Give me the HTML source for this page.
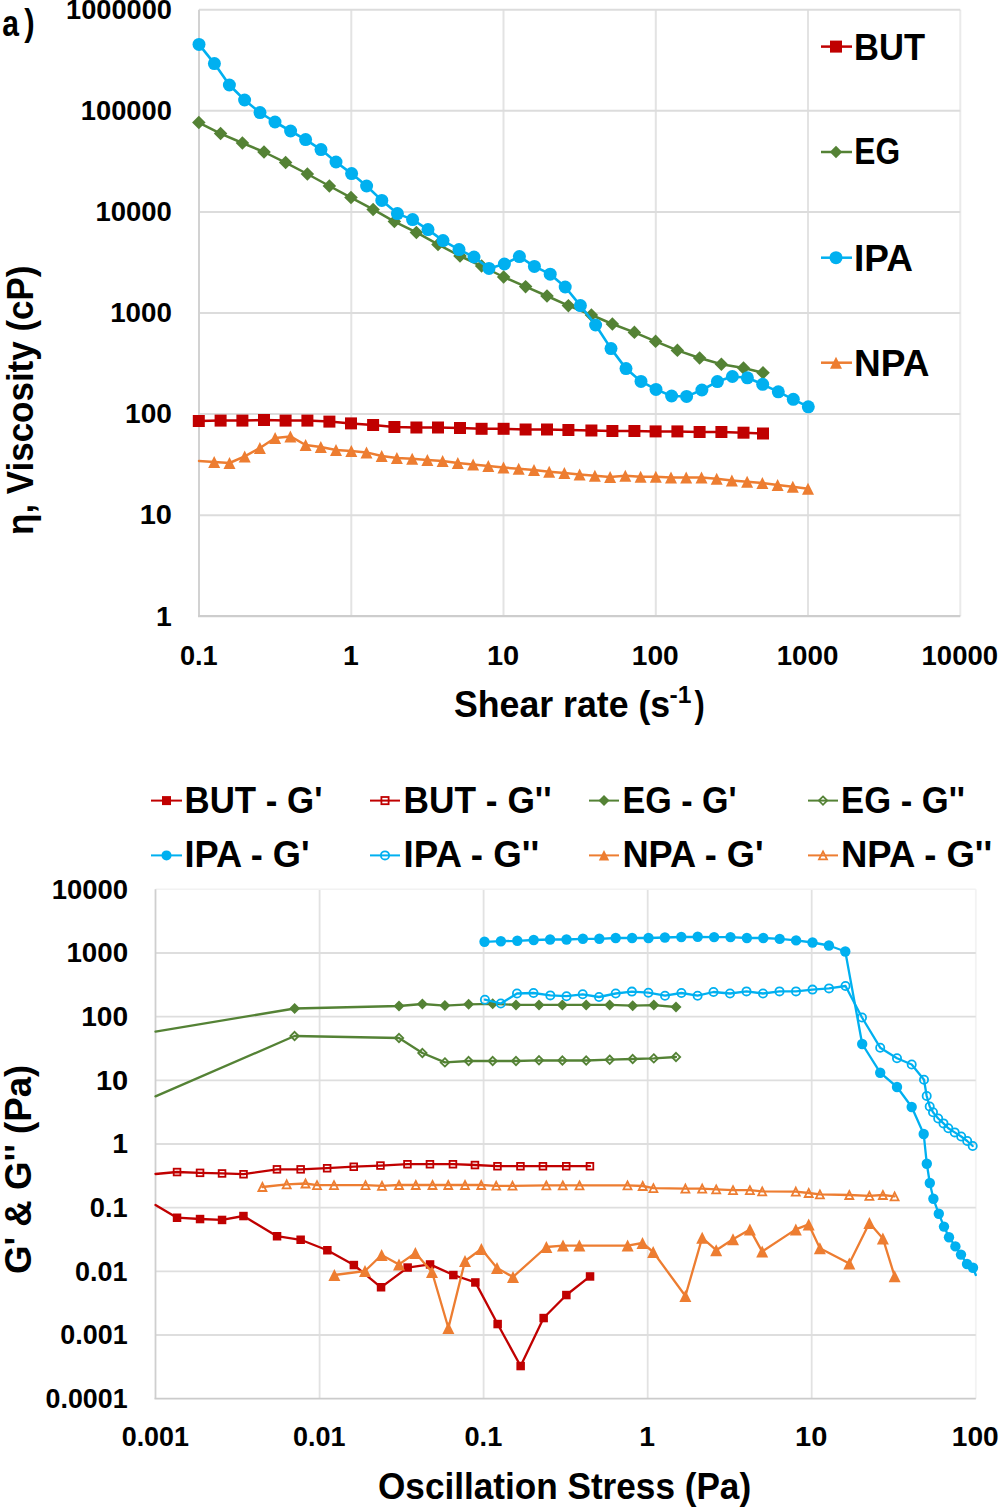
<!DOCTYPE html>
<html><head><meta charset="utf-8"><style>
html,body{margin:0;padding:0;background:#fff;}
svg{display:block;}
#wrap{width:1000px;height:1509px;}
text{font-family:"Liberation Sans",sans-serif;font-weight:bold;}
</style></head><body><div id="wrap">
<svg width="1000" height="1509" viewBox="0 0 1000 1509">
<rect width="1000" height="1509" fill="#fff"/>
<line x1="351.3" y1="9.8" x2="351.3" y2="616.2" stroke="#e3e3e3" stroke-width="2"/>
<line x1="503.5" y1="9.8" x2="503.5" y2="616.2" stroke="#e3e3e3" stroke-width="2"/>
<line x1="655.8" y1="9.8" x2="655.8" y2="616.2" stroke="#e3e3e3" stroke-width="2"/>
<line x1="808" y1="9.8" x2="808" y2="616.2" stroke="#e3e3e3" stroke-width="2"/>
<line x1="960.3" y1="9.8" x2="960.3" y2="616.2" stroke="#eaeaea" stroke-width="2"/>
<line x1="199" y1="9.8" x2="960.3" y2="9.8" stroke="#dcdcdc" stroke-width="2"/>
<line x1="199" y1="110.8" x2="960.3" y2="110.8" stroke="#dcdcdc" stroke-width="2"/>
<line x1="199" y1="211.9" x2="960.3" y2="211.9" stroke="#dcdcdc" stroke-width="2"/>
<line x1="199" y1="313" x2="960.3" y2="313" stroke="#dcdcdc" stroke-width="2"/>
<line x1="199" y1="414.1" x2="960.3" y2="414.1" stroke="#dcdcdc" stroke-width="2"/>
<line x1="199" y1="515.2" x2="960.3" y2="515.2" stroke="#dcdcdc" stroke-width="2"/>
<line x1="199" y1="9.8" x2="199" y2="616.2" stroke="#d2d2d2" stroke-width="2"/>
<line x1="198" y1="616.2" x2="960.3" y2="616.2" stroke="#cdcdcd" stroke-width="2.2"/>
<polyline points="198.8,421 220.6,420.6 242.4,420.6 264,420 285.6,420.6 307.4,420.6 329.4,421.6 351,423.4 373.1,425 394.4,427 416.4,427.5 438,427.5 460,428 481.6,428.8 503.6,428.8 525.6,429.5 547,429.5 568.4,430 591.4,430.5 612.4,431 634.4,431 655.6,431.4 677.4,431.4 699.6,432 721.4,432 743.5,432.7 763,433.5" fill="none" stroke="#c00000" stroke-width="2.5" stroke-linejoin="round" stroke-linecap="round"/>
<rect x="192.8" y="415" width="12" height="12" fill="#c00000"/>
<rect x="214.6" y="414.6" width="12" height="12" fill="#c00000"/>
<rect x="236.4" y="414.6" width="12" height="12" fill="#c00000"/>
<rect x="258" y="414" width="12" height="12" fill="#c00000"/>
<rect x="279.6" y="414.6" width="12" height="12" fill="#c00000"/>
<rect x="301.4" y="414.6" width="12" height="12" fill="#c00000"/>
<rect x="323.4" y="415.6" width="12" height="12" fill="#c00000"/>
<rect x="345" y="417.4" width="12" height="12" fill="#c00000"/>
<rect x="367.1" y="419" width="12" height="12" fill="#c00000"/>
<rect x="388.4" y="421" width="12" height="12" fill="#c00000"/>
<rect x="410.4" y="421.5" width="12" height="12" fill="#c00000"/>
<rect x="432" y="421.5" width="12" height="12" fill="#c00000"/>
<rect x="454" y="422" width="12" height="12" fill="#c00000"/>
<rect x="475.6" y="422.8" width="12" height="12" fill="#c00000"/>
<rect x="497.6" y="422.8" width="12" height="12" fill="#c00000"/>
<rect x="519.6" y="423.5" width="12" height="12" fill="#c00000"/>
<rect x="541" y="423.5" width="12" height="12" fill="#c00000"/>
<rect x="562.4" y="424" width="12" height="12" fill="#c00000"/>
<rect x="585.4" y="424.5" width="12" height="12" fill="#c00000"/>
<rect x="606.4" y="425" width="12" height="12" fill="#c00000"/>
<rect x="628.4" y="425" width="12" height="12" fill="#c00000"/>
<rect x="649.6" y="425.4" width="12" height="12" fill="#c00000"/>
<rect x="671.4" y="425.4" width="12" height="12" fill="#c00000"/>
<rect x="693.6" y="426" width="12" height="12" fill="#c00000"/>
<rect x="715.4" y="426" width="12" height="12" fill="#c00000"/>
<rect x="737.5" y="426.7" width="12" height="12" fill="#c00000"/>
<rect x="757" y="427.5" width="12" height="12" fill="#c00000"/>
<polyline points="198.8,122.6 220.6,133.6 242.4,143 264,152 285.6,162.6 307.4,174 329.4,186 351,197.6 373.1,209.4 394.4,221.6 416.4,232.4 438,244.4 460,256 481.6,266 503.6,277 525.6,286.6 547,296 568.4,305.6 591.4,315 612.4,324 634.4,332.4 655.6,341.4 677.4,350.4 699.6,358 721.4,364.3 743.5,368 763,372.7" fill="none" stroke="#548235" stroke-width="2.5" stroke-linejoin="round" stroke-linecap="round"/>
<path d="M198.8 115.8L205.6 122.6L198.8 129.3L192.1 122.6Z" fill="#548235"/>
<path d="M220.6 126.8L227.3 133.6L220.6 140.3L213.8 133.6Z" fill="#548235"/>
<path d="M242.4 136.2L249.2 143L242.4 149.8L235.7 143Z" fill="#548235"/>
<path d="M264 145.2L270.8 152L264 158.8L257.2 152Z" fill="#548235"/>
<path d="M285.6 155.8L292.4 162.6L285.6 169.3L278.9 162.6Z" fill="#548235"/>
<path d="M307.4 167.2L314.1 174L307.4 180.8L300.6 174Z" fill="#548235"/>
<path d="M329.4 179.2L336.1 186L329.4 192.8L322.6 186Z" fill="#548235"/>
<path d="M351 190.8L357.8 197.6L351 204.3L344.2 197.6Z" fill="#548235"/>
<path d="M373.1 202.7L379.9 209.4L373.1 216.2L366.4 209.4Z" fill="#548235"/>
<path d="M394.4 214.8L401.1 221.6L394.4 228.3L387.6 221.6Z" fill="#548235"/>
<path d="M416.4 225.7L423.1 232.4L416.4 239.2L409.6 232.4Z" fill="#548235"/>
<path d="M438 237.7L444.8 244.4L438 251.2L431.2 244.4Z" fill="#548235"/>
<path d="M460 249.2L466.8 256L460 262.8L453.2 256Z" fill="#548235"/>
<path d="M481.6 259.2L488.4 266L481.6 272.8L474.9 266Z" fill="#548235"/>
<path d="M503.6 270.2L510.4 277L503.6 283.8L496.9 277Z" fill="#548235"/>
<path d="M525.6 279.9L532.4 286.6L525.6 293.4L518.9 286.6Z" fill="#548235"/>
<path d="M547 289.2L553.8 296L547 302.8L540.2 296Z" fill="#548235"/>
<path d="M568.4 298.9L575.1 305.6L568.4 312.4L561.6 305.6Z" fill="#548235"/>
<path d="M591.4 308.2L598.1 315L591.4 321.8L584.6 315Z" fill="#548235"/>
<path d="M612.4 317.2L619.1 324L612.4 330.8L605.6 324Z" fill="#548235"/>
<path d="M634.4 325.6L641.1 332.4L634.4 339.1L627.6 332.4Z" fill="#548235"/>
<path d="M655.6 334.6L662.4 341.4L655.6 348.1L648.9 341.4Z" fill="#548235"/>
<path d="M677.4 343.6L684.1 350.4L677.4 357.1L670.6 350.4Z" fill="#548235"/>
<path d="M699.6 351.2L706.4 358L699.6 364.8L692.9 358Z" fill="#548235"/>
<path d="M721.4 357.6L728.1 364.3L721.4 371.1L714.6 364.3Z" fill="#548235"/>
<path d="M743.5 361.2L750.2 368L743.5 374.8L736.8 368Z" fill="#548235"/>
<path d="M763 365.9L769.8 372.7L763 379.4L756.2 372.7Z" fill="#548235"/>
<polyline points="199,461 214.2,462 229.5,463 244.7,456.4 259.9,448 275.1,438 290.4,436.4 305.6,445 320.8,447 336,450 351.3,451 366.5,452.4 381.7,456 396.9,458 412.2,458.8 427.4,460 442.6,461 457.8,463 473.1,464.5 488.3,466 503.5,467.5 518.7,468.8 534,470 549.2,471.8 564.4,473 579.6,474.5 594.9,475.8 610.1,477 625.3,475.8 640.6,476.8 655.8,476.8 671,477.5 686.2,477.5 701.5,477.5 716.7,478.8 731.9,480.5 747.1,481.8 762.4,483 777.6,485 792.8,486.8 808,488.8" fill="none" stroke="#ed7d31" stroke-width="2.5" stroke-linejoin="round" stroke-linecap="round"/>
<path d="M214.2 456L220.2 468L208.2 468Z" fill="#ed7d31"/>
<path d="M229.5 457L235.5 469L223.5 469Z" fill="#ed7d31"/>
<path d="M244.7 450.4L250.7 462.4L238.7 462.4Z" fill="#ed7d31"/>
<path d="M259.9 442L265.9 454L253.9 454Z" fill="#ed7d31"/>
<path d="M275.1 432L281.1 444L269.1 444Z" fill="#ed7d31"/>
<path d="M290.4 430.4L296.4 442.4L284.4 442.4Z" fill="#ed7d31"/>
<path d="M305.6 439L311.6 451L299.6 451Z" fill="#ed7d31"/>
<path d="M320.8 441L326.8 453L314.8 453Z" fill="#ed7d31"/>
<path d="M336 444L342 456L330 456Z" fill="#ed7d31"/>
<path d="M351.3 445L357.3 457L345.3 457Z" fill="#ed7d31"/>
<path d="M366.5 446.4L372.5 458.4L360.5 458.4Z" fill="#ed7d31"/>
<path d="M381.7 450L387.7 462L375.7 462Z" fill="#ed7d31"/>
<path d="M396.9 452L402.9 464L390.9 464Z" fill="#ed7d31"/>
<path d="M412.2 452.8L418.2 464.8L406.2 464.8Z" fill="#ed7d31"/>
<path d="M427.4 454L433.4 466L421.4 466Z" fill="#ed7d31"/>
<path d="M442.6 455L448.6 467L436.6 467Z" fill="#ed7d31"/>
<path d="M457.8 457L463.8 469L451.8 469Z" fill="#ed7d31"/>
<path d="M473.1 458.5L479.1 470.5L467.1 470.5Z" fill="#ed7d31"/>
<path d="M488.3 460L494.3 472L482.3 472Z" fill="#ed7d31"/>
<path d="M503.5 461.5L509.5 473.5L497.5 473.5Z" fill="#ed7d31"/>
<path d="M518.7 462.8L524.7 474.8L512.7 474.8Z" fill="#ed7d31"/>
<path d="M534 464L540 476L528 476Z" fill="#ed7d31"/>
<path d="M549.2 465.8L555.2 477.8L543.2 477.8Z" fill="#ed7d31"/>
<path d="M564.4 467L570.4 479L558.4 479Z" fill="#ed7d31"/>
<path d="M579.6 468.5L585.6 480.5L573.6 480.5Z" fill="#ed7d31"/>
<path d="M594.9 469.8L600.9 481.8L588.9 481.8Z" fill="#ed7d31"/>
<path d="M610.1 471L616.1 483L604.1 483Z" fill="#ed7d31"/>
<path d="M625.3 469.8L631.3 481.8L619.3 481.8Z" fill="#ed7d31"/>
<path d="M640.6 470.8L646.6 482.8L634.6 482.8Z" fill="#ed7d31"/>
<path d="M655.8 470.8L661.8 482.8L649.8 482.8Z" fill="#ed7d31"/>
<path d="M671 471.5L677 483.5L665 483.5Z" fill="#ed7d31"/>
<path d="M686.2 471.5L692.2 483.5L680.2 483.5Z" fill="#ed7d31"/>
<path d="M701.5 471.5L707.5 483.5L695.5 483.5Z" fill="#ed7d31"/>
<path d="M716.7 472.8L722.7 484.8L710.7 484.8Z" fill="#ed7d31"/>
<path d="M731.9 474.5L737.9 486.5L725.9 486.5Z" fill="#ed7d31"/>
<path d="M747.1 475.8L753.1 487.8L741.1 487.8Z" fill="#ed7d31"/>
<path d="M762.4 477L768.4 489L756.4 489Z" fill="#ed7d31"/>
<path d="M777.6 479L783.6 491L771.6 491Z" fill="#ed7d31"/>
<path d="M792.8 480.8L798.8 492.8L786.8 492.8Z" fill="#ed7d31"/>
<path d="M808 482.8L814 494.8L802 494.8Z" fill="#ed7d31"/>
<polyline points="199,44.4 214.4,63.6 229.4,85 244.6,100 260,112.6 275,122 290.6,131 305.6,139.6 321,149.6 336,162 351.6,173.6 366.6,186 381.8,200.4 397.4,213.6 412.6,219.6 428,229.6 443,240.6 459,249.6 474,257 489,268.4 504.4,264 519.4,256.6 534.4,266.4 550.2,274.2 565.2,287 580.4,305.6 595.6,325 611,348.6 626,368.6 641,381.4 656,389.4 671.6,396 686.6,396.4 701.9,390 717.4,381.6 732.4,376.5 747.4,377.8 762.7,384.3 778.3,391.8 793.3,399.3 808.3,406.8" fill="none" stroke="#00b0f0" stroke-width="2.6" stroke-linejoin="round" stroke-linecap="round"/>
<circle cx="199" cy="44.4" r="6.5" fill="#00b0f0"/>
<circle cx="214.4" cy="63.6" r="6.5" fill="#00b0f0"/>
<circle cx="229.4" cy="85" r="6.5" fill="#00b0f0"/>
<circle cx="244.6" cy="100" r="6.5" fill="#00b0f0"/>
<circle cx="260" cy="112.6" r="6.5" fill="#00b0f0"/>
<circle cx="275" cy="122" r="6.5" fill="#00b0f0"/>
<circle cx="290.6" cy="131" r="6.5" fill="#00b0f0"/>
<circle cx="305.6" cy="139.6" r="6.5" fill="#00b0f0"/>
<circle cx="321" cy="149.6" r="6.5" fill="#00b0f0"/>
<circle cx="336" cy="162" r="6.5" fill="#00b0f0"/>
<circle cx="351.6" cy="173.6" r="6.5" fill="#00b0f0"/>
<circle cx="366.6" cy="186" r="6.5" fill="#00b0f0"/>
<circle cx="381.8" cy="200.4" r="6.5" fill="#00b0f0"/>
<circle cx="397.4" cy="213.6" r="6.5" fill="#00b0f0"/>
<circle cx="412.6" cy="219.6" r="6.5" fill="#00b0f0"/>
<circle cx="428" cy="229.6" r="6.5" fill="#00b0f0"/>
<circle cx="443" cy="240.6" r="6.5" fill="#00b0f0"/>
<circle cx="459" cy="249.6" r="6.5" fill="#00b0f0"/>
<circle cx="474" cy="257" r="6.5" fill="#00b0f0"/>
<circle cx="489" cy="268.4" r="6.5" fill="#00b0f0"/>
<circle cx="504.4" cy="264" r="6.5" fill="#00b0f0"/>
<circle cx="519.4" cy="256.6" r="6.5" fill="#00b0f0"/>
<circle cx="534.4" cy="266.4" r="6.5" fill="#00b0f0"/>
<circle cx="550.2" cy="274.2" r="6.5" fill="#00b0f0"/>
<circle cx="565.2" cy="287" r="6.5" fill="#00b0f0"/>
<circle cx="580.4" cy="305.6" r="6.5" fill="#00b0f0"/>
<circle cx="595.6" cy="325" r="6.5" fill="#00b0f0"/>
<circle cx="611" cy="348.6" r="6.5" fill="#00b0f0"/>
<circle cx="626" cy="368.6" r="6.5" fill="#00b0f0"/>
<circle cx="641" cy="381.4" r="6.5" fill="#00b0f0"/>
<circle cx="656" cy="389.4" r="6.5" fill="#00b0f0"/>
<circle cx="671.6" cy="396" r="6.5" fill="#00b0f0"/>
<circle cx="686.6" cy="396.4" r="6.5" fill="#00b0f0"/>
<circle cx="701.9" cy="390" r="6.5" fill="#00b0f0"/>
<circle cx="717.4" cy="381.6" r="6.5" fill="#00b0f0"/>
<circle cx="732.4" cy="376.5" r="6.5" fill="#00b0f0"/>
<circle cx="747.4" cy="377.8" r="6.5" fill="#00b0f0"/>
<circle cx="762.7" cy="384.3" r="6.5" fill="#00b0f0"/>
<circle cx="778.3" cy="391.8" r="6.5" fill="#00b0f0"/>
<circle cx="793.3" cy="399.3" r="6.5" fill="#00b0f0"/>
<circle cx="808.3" cy="406.8" r="6.5" fill="#00b0f0"/>
<g font-family="Liberation Sans" font-weight="bold" fill="#000">
<text x="66" y="18.9" font-size="27" textLength="105.9" lengthAdjust="spacingAndGlyphs">1000000</text>
<text x="80.8" y="120" font-size="27" textLength="91.1" lengthAdjust="spacingAndGlyphs">100000</text>
<text x="95.5" y="221.1" font-size="27" textLength="76.4" lengthAdjust="spacingAndGlyphs">10000</text>
<text x="110.2" y="322.2" font-size="27" textLength="61.7" lengthAdjust="spacingAndGlyphs">1000</text>
<text x="125" y="423.3" font-size="27" textLength="46.9" lengthAdjust="spacingAndGlyphs">100</text>
<text x="139.7" y="524.4" font-size="27" textLength="32.3" lengthAdjust="spacingAndGlyphs">10</text>
<text x="156.1" y="625.5" font-size="27" textLength="15.8" lengthAdjust="spacingAndGlyphs">1</text>
<text x="179.9" y="664.6" font-size="27" textLength="37.8" lengthAdjust="spacingAndGlyphs">0.1</text>
<text x="342.9" y="664.6" font-size="27" textLength="15.8" lengthAdjust="spacingAndGlyphs">1</text>
<text x="486.9" y="664.6" font-size="27" textLength="32.3" lengthAdjust="spacingAndGlyphs">10</text>
<text x="631.8" y="664.6" font-size="27" textLength="46.9" lengthAdjust="spacingAndGlyphs">100</text>
<text x="776.7" y="664.6" font-size="27" textLength="61.7" lengthAdjust="spacingAndGlyphs">1000</text>
<text x="921.6" y="664.6" font-size="27" textLength="76.4" lengthAdjust="spacingAndGlyphs">10000</text>
<text x="2.2" y="36.2" font-size="37" textLength="16.7" lengthAdjust="spacingAndGlyphs">a</text>
<text x="24.3" y="35.3" font-size="36" textLength="10.4" lengthAdjust="spacingAndGlyphs">)</text>
<line x1="821" y1="46.6" x2="852" y2="46.6" stroke="#c00000" stroke-width="2.5"/>
<rect x="830" y="40.6" width="12" height="12" fill="#c00000"/>
<text x="854.1" y="59.6" font-size="37" textLength="70.9" lengthAdjust="spacingAndGlyphs">BUT</text>
<line x1="821" y1="152" x2="852" y2="152" stroke="#548235" stroke-width="2.5"/>
<path d="M836 145.8L842.2 152L836 158.2L829.8 152Z" fill="#548235"/>
<text x="854.3" y="164" font-size="37" textLength="45.8" lengthAdjust="spacingAndGlyphs">EG</text>
<line x1="821" y1="257.7" x2="852" y2="257.7" stroke="#00b0f0" stroke-width="2.5"/>
<circle cx="836" cy="257.7" r="6.5" fill="#00b0f0"/>
<text x="854" y="270.5" font-size="37" textLength="58.9" lengthAdjust="spacingAndGlyphs">IPA</text>
<line x1="821" y1="362.7" x2="852" y2="362.7" stroke="#ed7d31" stroke-width="2.5"/>
<path d="M836 356.7L842 368.7L830 368.7Z" fill="#ed7d31"/>
<text x="854" y="375.5" font-size="37" textLength="75.4" lengthAdjust="spacingAndGlyphs">NPA</text>
<text x="454" y="717" font-size="36" textLength="216.1" lengthAdjust="spacingAndGlyphs">Shear rate (s</text>
<text x="669.5" y="703" font-size="24" textLength="21.9" lengthAdjust="spacingAndGlyphs">-1</text>
<text x="694.5" y="717" font-size="36" textLength="10.2" lengthAdjust="spacingAndGlyphs">)</text>
<text transform="translate(33,534.9) rotate(-90)" x="0" y="0" font-size="36" textLength="269.3" lengthAdjust="spacingAndGlyphs">η, Viscosity (cP)</text>
</g>
<line x1="319.6" y1="889.3" x2="319.6" y2="1398.7" stroke="#e2e2e2" stroke-width="1.8"/>
<line x1="483.6" y1="889.3" x2="483.6" y2="1398.7" stroke="#e2e2e2" stroke-width="1.8"/>
<line x1="647.7" y1="889.3" x2="647.7" y2="1398.7" stroke="#e2e2e2" stroke-width="1.8"/>
<line x1="811.7" y1="889.3" x2="811.7" y2="1398.7" stroke="#e2e2e2" stroke-width="1.8"/>
<line x1="975.8" y1="889.3" x2="975.8" y2="1398.7" stroke="#f3f3f3" stroke-width="1.8"/>
<line x1="155.5" y1="953" x2="975.8" y2="953" stroke="#dedede" stroke-width="1.8"/>
<line x1="155.5" y1="1016.6" x2="975.8" y2="1016.6" stroke="#dedede" stroke-width="1.8"/>
<line x1="155.5" y1="1080.3" x2="975.8" y2="1080.3" stroke="#dedede" stroke-width="1.8"/>
<line x1="155.5" y1="1144" x2="975.8" y2="1144" stroke="#dedede" stroke-width="1.8"/>
<line x1="155.5" y1="1207.7" x2="975.8" y2="1207.7" stroke="#dedede" stroke-width="1.8"/>
<line x1="155.5" y1="1271.3" x2="975.8" y2="1271.3" stroke="#dedede" stroke-width="1.8"/>
<line x1="155.5" y1="1335" x2="975.8" y2="1335" stroke="#dedede" stroke-width="1.8"/>
<line x1="155.5" y1="889.3" x2="975.8" y2="889.3" stroke="#f2f2f2" stroke-width="1.6"/>
<line x1="155.5" y1="889.3" x2="155.5" y2="1398.7" stroke="#cfcfcf" stroke-width="1.8"/>
<line x1="154.5" y1="1398.7" x2="975.8" y2="1398.7" stroke="#cbcbcb" stroke-width="1.8"/>
<polyline points="155.5,1205 177,1217.7 200,1219 222,1219.9 243.5,1216 277,1236.2 300.7,1239.8 327.3,1250.2 353.9,1265 381,1287.3 407.6,1267.6 430,1264.4 453.4,1275 475.4,1282.4 497.6,1324 520.6,1366 543.6,1318 566.4,1295 590,1276.4" fill="none" stroke="#c00000" stroke-width="2.3" stroke-linejoin="round" stroke-linecap="round"/>
<rect x="172.8" y="1213.5" width="8.5" height="8.5" fill="#c00000"/>
<rect x="195.8" y="1214.8" width="8.5" height="8.5" fill="#c00000"/>
<rect x="217.8" y="1215.7" width="8.5" height="8.5" fill="#c00000"/>
<rect x="239.2" y="1211.8" width="8.5" height="8.5" fill="#c00000"/>
<rect x="272.8" y="1232" width="8.5" height="8.5" fill="#c00000"/>
<rect x="296.4" y="1235.5" width="8.5" height="8.5" fill="#c00000"/>
<rect x="323.1" y="1246" width="8.5" height="8.5" fill="#c00000"/>
<rect x="349.6" y="1260.8" width="8.5" height="8.5" fill="#c00000"/>
<rect x="376.8" y="1283" width="8.5" height="8.5" fill="#c00000"/>
<rect x="403.4" y="1263.3" width="8.5" height="8.5" fill="#c00000"/>
<rect x="425.8" y="1260.2" width="8.5" height="8.5" fill="#c00000"/>
<rect x="449.1" y="1270.8" width="8.5" height="8.5" fill="#c00000"/>
<rect x="471.1" y="1278.2" width="8.5" height="8.5" fill="#c00000"/>
<rect x="493.4" y="1319.8" width="8.5" height="8.5" fill="#c00000"/>
<rect x="516.4" y="1361.8" width="8.5" height="8.5" fill="#c00000"/>
<rect x="539.4" y="1313.8" width="8.5" height="8.5" fill="#c00000"/>
<rect x="562.1" y="1290.8" width="8.5" height="8.5" fill="#c00000"/>
<rect x="585.8" y="1272.2" width="8.5" height="8.5" fill="#c00000"/>
<polyline points="155.5,1174 177,1172 200,1172.8 222,1173.4 243.5,1174.2 277,1169.3 300.7,1169.3 327.2,1168.2 353.8,1166.7 380.5,1165.6 407.5,1164.2 430,1164.2 453,1164.2 475,1165 497.5,1166.2 520.5,1166.2 543,1166.2 566.2,1166.2 590,1166.2" fill="none" stroke="#c00000" stroke-width="2.3" stroke-linejoin="round" stroke-linecap="round"/>
<rect x="173.7" y="1168.7" width="6.7" height="6.7" fill="none" stroke="#c00000" stroke-width="1.8"/>
<rect x="196.7" y="1169.5" width="6.7" height="6.7" fill="none" stroke="#c00000" stroke-width="1.8"/>
<rect x="218.7" y="1170.1" width="6.7" height="6.7" fill="none" stroke="#c00000" stroke-width="1.8"/>
<rect x="240.2" y="1170.9" width="6.7" height="6.7" fill="none" stroke="#c00000" stroke-width="1.8"/>
<rect x="273.6" y="1166" width="6.7" height="6.7" fill="none" stroke="#c00000" stroke-width="1.8"/>
<rect x="297.3" y="1166" width="6.7" height="6.7" fill="none" stroke="#c00000" stroke-width="1.8"/>
<rect x="323.8" y="1164.9" width="6.7" height="6.7" fill="none" stroke="#c00000" stroke-width="1.8"/>
<rect x="350.4" y="1163.4" width="6.7" height="6.7" fill="none" stroke="#c00000" stroke-width="1.8"/>
<rect x="377.1" y="1162.2" width="6.7" height="6.7" fill="none" stroke="#c00000" stroke-width="1.8"/>
<rect x="404.1" y="1160.9" width="6.7" height="6.7" fill="none" stroke="#c00000" stroke-width="1.8"/>
<rect x="426.6" y="1160.9" width="6.7" height="6.7" fill="none" stroke="#c00000" stroke-width="1.8"/>
<rect x="449.6" y="1160.9" width="6.7" height="6.7" fill="none" stroke="#c00000" stroke-width="1.8"/>
<rect x="471.6" y="1161.7" width="6.7" height="6.7" fill="none" stroke="#c00000" stroke-width="1.8"/>
<rect x="494.1" y="1162.9" width="6.7" height="6.7" fill="none" stroke="#c00000" stroke-width="1.8"/>
<rect x="517.1" y="1162.9" width="6.7" height="6.7" fill="none" stroke="#c00000" stroke-width="1.8"/>
<rect x="539.6" y="1162.9" width="6.7" height="6.7" fill="none" stroke="#c00000" stroke-width="1.8"/>
<rect x="562.9" y="1162.9" width="6.7" height="6.7" fill="none" stroke="#c00000" stroke-width="1.8"/>
<rect x="586.6" y="1162.9" width="6.7" height="6.7" fill="none" stroke="#c00000" stroke-width="1.8"/>
<polyline points="155.5,1031.6 294.6,1008.5 399,1006 422.4,1004 444.9,1005.6 468.6,1004.3 492.7,1003.8 516,1004.9 539,1004.9 562.4,1004.9 586.2,1004.9 609.7,1004.9 632.7,1005.7 653.8,1005.1 676,1007" fill="none" stroke="#548235" stroke-width="2.3" stroke-linejoin="round" stroke-linecap="round"/>
<path d="M294.6 1003L300.1 1008.5L294.6 1014L289.1 1008.5Z" fill="#548235"/>
<path d="M399 1000.5L404.5 1006L399 1011.5L393.5 1006Z" fill="#548235"/>
<path d="M422.4 998.5L427.9 1004L422.4 1009.5L416.9 1004Z" fill="#548235"/>
<path d="M444.9 1000.1L450.4 1005.6L444.9 1011.1L439.4 1005.6Z" fill="#548235"/>
<path d="M468.6 998.8L474.1 1004.3L468.6 1009.8L463.1 1004.3Z" fill="#548235"/>
<path d="M492.7 998.3L498.2 1003.8L492.7 1009.3L487.2 1003.8Z" fill="#548235"/>
<path d="M516 999.4L521.5 1004.9L516 1010.4L510.5 1004.9Z" fill="#548235"/>
<path d="M539 999.4L544.5 1004.9L539 1010.4L533.5 1004.9Z" fill="#548235"/>
<path d="M562.4 999.4L567.9 1004.9L562.4 1010.4L556.9 1004.9Z" fill="#548235"/>
<path d="M586.2 999.4L591.7 1004.9L586.2 1010.4L580.7 1004.9Z" fill="#548235"/>
<path d="M609.7 999.4L615.2 1004.9L609.7 1010.4L604.2 1004.9Z" fill="#548235"/>
<path d="M632.7 1000.2L638.2 1005.7L632.7 1011.2L627.2 1005.7Z" fill="#548235"/>
<path d="M653.8 999.6L659.3 1005.1L653.8 1010.6L648.3 1005.1Z" fill="#548235"/>
<path d="M676 1001.5L681.5 1007L676 1012.5L670.5 1007Z" fill="#548235"/>
<polyline points="155.5,1096.4 294.6,1036 399,1038 422.4,1053 444.9,1062.4 468.6,1061 492.7,1061 516,1061 539,1060.3 562.4,1060.5 586.2,1060.5 609.7,1059.7 632.7,1059 653.8,1058.4 676,1057" fill="none" stroke="#548235" stroke-width="2.3" stroke-linejoin="round" stroke-linecap="round"/>
<path d="M294.6 1031.8L298.8 1036L294.6 1040.2L290.4 1036Z" fill="none" stroke="#548235" stroke-width="1.8"/>
<path d="M399 1033.8L403.2 1038L399 1042.2L394.8 1038Z" fill="none" stroke="#548235" stroke-width="1.8"/>
<path d="M422.4 1048.8L426.6 1053L422.4 1057.2L418.2 1053Z" fill="none" stroke="#548235" stroke-width="1.8"/>
<path d="M444.9 1058.2L449.1 1062.4L444.9 1066.6L440.7 1062.4Z" fill="none" stroke="#548235" stroke-width="1.8"/>
<path d="M468.6 1056.8L472.8 1061L468.6 1065.2L464.4 1061Z" fill="none" stroke="#548235" stroke-width="1.8"/>
<path d="M492.7 1056.8L496.9 1061L492.7 1065.2L488.5 1061Z" fill="none" stroke="#548235" stroke-width="1.8"/>
<path d="M516 1056.8L520.2 1061L516 1065.2L511.8 1061Z" fill="none" stroke="#548235" stroke-width="1.8"/>
<path d="M539 1056.1L543.2 1060.3L539 1064.5L534.8 1060.3Z" fill="none" stroke="#548235" stroke-width="1.8"/>
<path d="M562.4 1056.3L566.6 1060.5L562.4 1064.7L558.2 1060.5Z" fill="none" stroke="#548235" stroke-width="1.8"/>
<path d="M586.2 1056.3L590.4 1060.5L586.2 1064.7L582 1060.5Z" fill="none" stroke="#548235" stroke-width="1.8"/>
<path d="M609.7 1055.5L613.9 1059.7L609.7 1063.9L605.5 1059.7Z" fill="none" stroke="#548235" stroke-width="1.8"/>
<path d="M632.7 1054.8L636.9 1059L632.7 1063.2L628.5 1059Z" fill="none" stroke="#548235" stroke-width="1.8"/>
<path d="M653.8 1054.2L658 1058.4L653.8 1062.6L649.6 1058.4Z" fill="none" stroke="#548235" stroke-width="1.8"/>
<path d="M676 1052.8L680.2 1057L676 1061.2L671.8 1057Z" fill="none" stroke="#548235" stroke-width="1.8"/>
<polyline points="973,1267.8 975.8,1275" fill="none" stroke="#00b0f0" stroke-width="2.3" stroke-linejoin="round" stroke-linecap="round"/>
<polyline points="484.5,941.8 500.9,941.2 517.3,940.8 533.7,940 550.1,939.5 566.5,939.5 582.9,938.8 599.3,938.8 615.7,938 632.1,938 648.5,938 664.9,937.5 681.3,937 697.7,936.8 714.1,937.1 730.5,937.1 746.9,938 763.3,938 779.7,938.9 796.1,940.4 812.5,942.5 828.9,945.5 845.3,951.5 862.2,1044 880.2,1072.7 897,1087 911.7,1107 923.7,1134 926.8,1163.8 929.8,1183 933.4,1198.8 938.8,1213.8 944,1226.6 949,1237.2 955.4,1246.4 961,1254.6 967,1264 973,1267.8" fill="none" stroke="#00b0f0" stroke-width="2.3" stroke-linejoin="round" stroke-linecap="round"/>
<circle cx="484.5" cy="941.8" r="5.2" fill="#00b0f0"/>
<circle cx="500.9" cy="941.2" r="5.2" fill="#00b0f0"/>
<circle cx="517.3" cy="940.8" r="5.2" fill="#00b0f0"/>
<circle cx="533.7" cy="940" r="5.2" fill="#00b0f0"/>
<circle cx="550.1" cy="939.5" r="5.2" fill="#00b0f0"/>
<circle cx="566.5" cy="939.5" r="5.2" fill="#00b0f0"/>
<circle cx="582.9" cy="938.8" r="5.2" fill="#00b0f0"/>
<circle cx="599.3" cy="938.8" r="5.2" fill="#00b0f0"/>
<circle cx="615.7" cy="938" r="5.2" fill="#00b0f0"/>
<circle cx="632.1" cy="938" r="5.2" fill="#00b0f0"/>
<circle cx="648.5" cy="938" r="5.2" fill="#00b0f0"/>
<circle cx="664.9" cy="937.5" r="5.2" fill="#00b0f0"/>
<circle cx="681.3" cy="937" r="5.2" fill="#00b0f0"/>
<circle cx="697.7" cy="936.8" r="5.2" fill="#00b0f0"/>
<circle cx="714.1" cy="937.1" r="5.2" fill="#00b0f0"/>
<circle cx="730.5" cy="937.1" r="5.2" fill="#00b0f0"/>
<circle cx="746.9" cy="938" r="5.2" fill="#00b0f0"/>
<circle cx="763.3" cy="938" r="5.2" fill="#00b0f0"/>
<circle cx="779.7" cy="938.9" r="5.2" fill="#00b0f0"/>
<circle cx="796.1" cy="940.4" r="5.2" fill="#00b0f0"/>
<circle cx="812.5" cy="942.5" r="5.2" fill="#00b0f0"/>
<circle cx="828.9" cy="945.5" r="5.2" fill="#00b0f0"/>
<circle cx="845.3" cy="951.5" r="5.2" fill="#00b0f0"/>
<circle cx="862.2" cy="1044" r="5.2" fill="#00b0f0"/>
<circle cx="880.2" cy="1072.7" r="5.2" fill="#00b0f0"/>
<circle cx="897" cy="1087" r="5.2" fill="#00b0f0"/>
<circle cx="911.7" cy="1107" r="5.2" fill="#00b0f0"/>
<circle cx="923.7" cy="1134" r="5.2" fill="#00b0f0"/>
<circle cx="926.8" cy="1163.8" r="5.2" fill="#00b0f0"/>
<circle cx="929.8" cy="1183" r="5.2" fill="#00b0f0"/>
<circle cx="933.4" cy="1198.8" r="5.2" fill="#00b0f0"/>
<circle cx="938.8" cy="1213.8" r="5.2" fill="#00b0f0"/>
<circle cx="944" cy="1226.6" r="5.2" fill="#00b0f0"/>
<circle cx="949" cy="1237.2" r="5.2" fill="#00b0f0"/>
<circle cx="955.4" cy="1246.4" r="5.2" fill="#00b0f0"/>
<circle cx="961" cy="1254.6" r="5.2" fill="#00b0f0"/>
<circle cx="967" cy="1264" r="5.2" fill="#00b0f0"/>
<circle cx="973" cy="1267.8" r="5.2" fill="#00b0f0"/>
<polyline points="484.9,999.7 500.8,1003.5 517,993.5 533.5,993 550.3,995.4 566.5,996.2 582.7,994.3 599,997 615.7,993.5 631.9,991.6 648.4,992.7 665,995.7 681.4,993 697.6,995.7 713.5,992 730,993.5 746.5,991.4 763,993.5 779.5,991.4 796,991.4 812.5,989.6 829,988.4 845.5,986 862,1017.5 880.2,1047.7 897,1058.2 911.7,1064.5 924,1079.8 926.7,1096 929.7,1106.5 933,1112.2 938.2,1118.5 943.5,1123.4 948.3,1128.2 954.7,1132.4 961.2,1136.5 967.2,1141 972.7,1146" fill="none" stroke="#00b0f0" stroke-width="2.3" stroke-linejoin="round" stroke-linecap="round"/>
<circle cx="484.9" cy="999.7" r="4.1" fill="none" stroke="#00b0f0" stroke-width="1.8"/>
<circle cx="500.8" cy="1003.5" r="4.1" fill="none" stroke="#00b0f0" stroke-width="1.8"/>
<circle cx="517" cy="993.5" r="4.1" fill="none" stroke="#00b0f0" stroke-width="1.8"/>
<circle cx="533.5" cy="993" r="4.1" fill="none" stroke="#00b0f0" stroke-width="1.8"/>
<circle cx="550.3" cy="995.4" r="4.1" fill="none" stroke="#00b0f0" stroke-width="1.8"/>
<circle cx="566.5" cy="996.2" r="4.1" fill="none" stroke="#00b0f0" stroke-width="1.8"/>
<circle cx="582.7" cy="994.3" r="4.1" fill="none" stroke="#00b0f0" stroke-width="1.8"/>
<circle cx="599" cy="997" r="4.1" fill="none" stroke="#00b0f0" stroke-width="1.8"/>
<circle cx="615.7" cy="993.5" r="4.1" fill="none" stroke="#00b0f0" stroke-width="1.8"/>
<circle cx="631.9" cy="991.6" r="4.1" fill="none" stroke="#00b0f0" stroke-width="1.8"/>
<circle cx="648.4" cy="992.7" r="4.1" fill="none" stroke="#00b0f0" stroke-width="1.8"/>
<circle cx="665" cy="995.7" r="4.1" fill="none" stroke="#00b0f0" stroke-width="1.8"/>
<circle cx="681.4" cy="993" r="4.1" fill="none" stroke="#00b0f0" stroke-width="1.8"/>
<circle cx="697.6" cy="995.7" r="4.1" fill="none" stroke="#00b0f0" stroke-width="1.8"/>
<circle cx="713.5" cy="992" r="4.1" fill="none" stroke="#00b0f0" stroke-width="1.8"/>
<circle cx="730" cy="993.5" r="4.1" fill="none" stroke="#00b0f0" stroke-width="1.8"/>
<circle cx="746.5" cy="991.4" r="4.1" fill="none" stroke="#00b0f0" stroke-width="1.8"/>
<circle cx="763" cy="993.5" r="4.1" fill="none" stroke="#00b0f0" stroke-width="1.8"/>
<circle cx="779.5" cy="991.4" r="4.1" fill="none" stroke="#00b0f0" stroke-width="1.8"/>
<circle cx="796" cy="991.4" r="4.1" fill="none" stroke="#00b0f0" stroke-width="1.8"/>
<circle cx="812.5" cy="989.6" r="4.1" fill="none" stroke="#00b0f0" stroke-width="1.8"/>
<circle cx="829" cy="988.4" r="4.1" fill="none" stroke="#00b0f0" stroke-width="1.8"/>
<circle cx="845.5" cy="986" r="4.1" fill="none" stroke="#00b0f0" stroke-width="1.8"/>
<circle cx="862" cy="1017.5" r="4.1" fill="none" stroke="#00b0f0" stroke-width="1.8"/>
<circle cx="880.2" cy="1047.7" r="4.1" fill="none" stroke="#00b0f0" stroke-width="1.8"/>
<circle cx="897" cy="1058.2" r="4.1" fill="none" stroke="#00b0f0" stroke-width="1.8"/>
<circle cx="911.7" cy="1064.5" r="4.1" fill="none" stroke="#00b0f0" stroke-width="1.8"/>
<circle cx="924" cy="1079.8" r="4.1" fill="none" stroke="#00b0f0" stroke-width="1.8"/>
<circle cx="926.7" cy="1096" r="4.1" fill="none" stroke="#00b0f0" stroke-width="1.8"/>
<circle cx="929.7" cy="1106.5" r="4.1" fill="none" stroke="#00b0f0" stroke-width="1.8"/>
<circle cx="933" cy="1112.2" r="4.1" fill="none" stroke="#00b0f0" stroke-width="1.8"/>
<circle cx="938.2" cy="1118.5" r="4.1" fill="none" stroke="#00b0f0" stroke-width="1.8"/>
<circle cx="943.5" cy="1123.4" r="4.1" fill="none" stroke="#00b0f0" stroke-width="1.8"/>
<circle cx="948.3" cy="1128.2" r="4.1" fill="none" stroke="#00b0f0" stroke-width="1.8"/>
<circle cx="954.7" cy="1132.4" r="4.1" fill="none" stroke="#00b0f0" stroke-width="1.8"/>
<circle cx="961.2" cy="1136.5" r="4.1" fill="none" stroke="#00b0f0" stroke-width="1.8"/>
<circle cx="967.2" cy="1141" r="4.1" fill="none" stroke="#00b0f0" stroke-width="1.8"/>
<circle cx="972.7" cy="1146" r="4.1" fill="none" stroke="#00b0f0" stroke-width="1.8"/>
<polyline points="334.4,1275 365,1271 381.6,1255 399,1264.4 415.4,1253 432,1272 448.4,1328 465,1261 481.4,1249 497,1268 513,1277 546.4,1247 563,1245.6 579.4,1245.6 627.6,1245.6 642.5,1243 653.2,1252 685.4,1296 702.2,1237.8 716.2,1250.2 733,1239.2 749.9,1229.4 762.2,1251.6 795.8,1229.4 808.7,1224.4 819.9,1248.2 849.3,1263.6 869.4,1223 882.9,1238.4 894.6,1276.2" fill="none" stroke="#ed7d31" stroke-width="2.3" stroke-linejoin="round" stroke-linecap="round"/>
<path d="M334.4 1269L340.4 1281L328.4 1281Z" fill="#ed7d31"/>
<path d="M365 1265L371 1277L359 1277Z" fill="#ed7d31"/>
<path d="M381.6 1249L387.6 1261L375.6 1261Z" fill="#ed7d31"/>
<path d="M399 1258.4L405 1270.4L393 1270.4Z" fill="#ed7d31"/>
<path d="M415.4 1247L421.4 1259L409.4 1259Z" fill="#ed7d31"/>
<path d="M432 1266L438 1278L426 1278Z" fill="#ed7d31"/>
<path d="M448.4 1322L454.4 1334L442.4 1334Z" fill="#ed7d31"/>
<path d="M465 1255L471 1267L459 1267Z" fill="#ed7d31"/>
<path d="M481.4 1243L487.4 1255L475.4 1255Z" fill="#ed7d31"/>
<path d="M497 1262L503 1274L491 1274Z" fill="#ed7d31"/>
<path d="M513 1271L519 1283L507 1283Z" fill="#ed7d31"/>
<path d="M546.4 1241L552.4 1253L540.4 1253Z" fill="#ed7d31"/>
<path d="M563 1239.6L569 1251.6L557 1251.6Z" fill="#ed7d31"/>
<path d="M579.4 1239.6L585.4 1251.6L573.4 1251.6Z" fill="#ed7d31"/>
<path d="M627.6 1239.6L633.6 1251.6L621.6 1251.6Z" fill="#ed7d31"/>
<path d="M642.5 1237L648.5 1249L636.5 1249Z" fill="#ed7d31"/>
<path d="M653.2 1246L659.2 1258L647.2 1258Z" fill="#ed7d31"/>
<path d="M685.4 1290L691.4 1302L679.4 1302Z" fill="#ed7d31"/>
<path d="M702.2 1231.8L708.2 1243.8L696.2 1243.8Z" fill="#ed7d31"/>
<path d="M716.2 1244.2L722.2 1256.2L710.2 1256.2Z" fill="#ed7d31"/>
<path d="M733 1233.2L739 1245.2L727 1245.2Z" fill="#ed7d31"/>
<path d="M749.9 1223.4L755.9 1235.4L743.9 1235.4Z" fill="#ed7d31"/>
<path d="M762.2 1245.6L768.2 1257.6L756.2 1257.6Z" fill="#ed7d31"/>
<path d="M795.8 1223.4L801.8 1235.4L789.8 1235.4Z" fill="#ed7d31"/>
<path d="M808.7 1218.4L814.7 1230.4L802.7 1230.4Z" fill="#ed7d31"/>
<path d="M819.9 1242.2L825.9 1254.2L813.9 1254.2Z" fill="#ed7d31"/>
<path d="M849.3 1257.6L855.3 1269.6L843.3 1269.6Z" fill="#ed7d31"/>
<path d="M869.4 1217L875.4 1229L863.4 1229Z" fill="#ed7d31"/>
<path d="M882.9 1232.4L888.9 1244.4L876.9 1244.4Z" fill="#ed7d31"/>
<path d="M894.6 1270.2L900.6 1282.2L888.6 1282.2Z" fill="#ed7d31"/>
<polyline points="262.4,1187 286.7,1184.3 305.5,1183.5 317,1185.2 334,1185.2 365.5,1185.2 382,1185.8 399,1185 415.8,1185 432.5,1185 448.2,1185 465,1185 481.2,1185 496.2,1185.8 512.5,1185.8 546.3,1185.4 562.8,1185.4 579.5,1185.4 627.5,1185.4 642.7,1186 653.4,1188.2 685.4,1188.6 702.2,1188.6 716.2,1189.4 733,1190.2 749.9,1190.2 762.2,1191.4 795.8,1191.6 808.7,1193 819.9,1194.4 849.3,1195 869.4,1195.8 882.9,1195 894.6,1196.4" fill="none" stroke="#ed7d31" stroke-width="2.3" stroke-linejoin="round" stroke-linecap="round"/>
<path d="M262.4 1183L266.4 1191L258.4 1191Z" fill="none" stroke="#ed7d31" stroke-width="1.8"/>
<path d="M286.7 1180.3L290.7 1188.3L282.7 1188.3Z" fill="none" stroke="#ed7d31" stroke-width="1.8"/>
<path d="M305.5 1179.5L309.5 1187.5L301.5 1187.5Z" fill="none" stroke="#ed7d31" stroke-width="1.8"/>
<path d="M317 1181.2L321 1189.2L313 1189.2Z" fill="none" stroke="#ed7d31" stroke-width="1.8"/>
<path d="M334 1181.2L338 1189.2L330 1189.2Z" fill="none" stroke="#ed7d31" stroke-width="1.8"/>
<path d="M365.5 1181.2L369.5 1189.2L361.5 1189.2Z" fill="none" stroke="#ed7d31" stroke-width="1.8"/>
<path d="M382 1181.8L386 1189.8L378 1189.8Z" fill="none" stroke="#ed7d31" stroke-width="1.8"/>
<path d="M399 1181L403 1189L395 1189Z" fill="none" stroke="#ed7d31" stroke-width="1.8"/>
<path d="M415.8 1181L419.7 1189L411.8 1189Z" fill="none" stroke="#ed7d31" stroke-width="1.8"/>
<path d="M432.5 1181L436.5 1189L428.5 1189Z" fill="none" stroke="#ed7d31" stroke-width="1.8"/>
<path d="M448.2 1181L452.2 1189L444.3 1189Z" fill="none" stroke="#ed7d31" stroke-width="1.8"/>
<path d="M465 1181L469 1189L461 1189Z" fill="none" stroke="#ed7d31" stroke-width="1.8"/>
<path d="M481.2 1181L485.2 1189L477.3 1189Z" fill="none" stroke="#ed7d31" stroke-width="1.8"/>
<path d="M496.2 1181.8L500.2 1189.7L492.3 1189.7Z" fill="none" stroke="#ed7d31" stroke-width="1.8"/>
<path d="M512.5 1181.8L516.5 1189.7L508.5 1189.7Z" fill="none" stroke="#ed7d31" stroke-width="1.8"/>
<path d="M546.3 1181.4L550.3 1189.4L542.3 1189.4Z" fill="none" stroke="#ed7d31" stroke-width="1.8"/>
<path d="M562.8 1181.4L566.8 1189.4L558.8 1189.4Z" fill="none" stroke="#ed7d31" stroke-width="1.8"/>
<path d="M579.5 1181.4L583.5 1189.4L575.5 1189.4Z" fill="none" stroke="#ed7d31" stroke-width="1.8"/>
<path d="M627.5 1181.4L631.5 1189.4L623.5 1189.4Z" fill="none" stroke="#ed7d31" stroke-width="1.8"/>
<path d="M642.7 1182L646.7 1190L638.7 1190Z" fill="none" stroke="#ed7d31" stroke-width="1.8"/>
<path d="M653.4 1184.2L657.4 1192.2L649.4 1192.2Z" fill="none" stroke="#ed7d31" stroke-width="1.8"/>
<path d="M685.4 1184.6L689.4 1192.6L681.4 1192.6Z" fill="none" stroke="#ed7d31" stroke-width="1.8"/>
<path d="M702.2 1184.6L706.2 1192.6L698.2 1192.6Z" fill="none" stroke="#ed7d31" stroke-width="1.8"/>
<path d="M716.2 1185.4L720.2 1193.4L712.2 1193.4Z" fill="none" stroke="#ed7d31" stroke-width="1.8"/>
<path d="M733 1186.2L737 1194.2L729 1194.2Z" fill="none" stroke="#ed7d31" stroke-width="1.8"/>
<path d="M749.9 1186.2L753.9 1194.2L745.9 1194.2Z" fill="none" stroke="#ed7d31" stroke-width="1.8"/>
<path d="M762.2 1187.4L766.2 1195.4L758.2 1195.4Z" fill="none" stroke="#ed7d31" stroke-width="1.8"/>
<path d="M795.8 1187.6L799.8 1195.6L791.8 1195.6Z" fill="none" stroke="#ed7d31" stroke-width="1.8"/>
<path d="M808.7 1189L812.7 1197L804.7 1197Z" fill="none" stroke="#ed7d31" stroke-width="1.8"/>
<path d="M819.9 1190.4L823.9 1198.4L815.9 1198.4Z" fill="none" stroke="#ed7d31" stroke-width="1.8"/>
<path d="M849.3 1191L853.3 1199L845.3 1199Z" fill="none" stroke="#ed7d31" stroke-width="1.8"/>
<path d="M869.4 1191.8L873.4 1199.8L865.4 1199.8Z" fill="none" stroke="#ed7d31" stroke-width="1.8"/>
<path d="M882.9 1191L886.9 1199L878.9 1199Z" fill="none" stroke="#ed7d31" stroke-width="1.8"/>
<path d="M894.6 1192.4L898.6 1200.4L890.6 1200.4Z" fill="none" stroke="#ed7d31" stroke-width="1.8"/>
<g font-family="Liberation Sans" font-weight="bold" fill="#000">
<text x="51.7" y="898.5" font-size="27" textLength="76.4" lengthAdjust="spacingAndGlyphs">10000</text>
<text x="66.4" y="962.2" font-size="27" textLength="61.7" lengthAdjust="spacingAndGlyphs">1000</text>
<text x="81.2" y="1025.8" font-size="27" textLength="46.9" lengthAdjust="spacingAndGlyphs">100</text>
<text x="95.9" y="1089.5" font-size="27" textLength="32.3" lengthAdjust="spacingAndGlyphs">10</text>
<text x="112.3" y="1153.2" font-size="27" textLength="15.8" lengthAdjust="spacingAndGlyphs">1</text>
<text x="89.8" y="1216.9" font-size="27" textLength="37.8" lengthAdjust="spacingAndGlyphs">0.1</text>
<text x="75.1" y="1280.5" font-size="27" textLength="52.5" lengthAdjust="spacingAndGlyphs">0.01</text>
<text x="60.3" y="1344.2" font-size="27" textLength="67.3" lengthAdjust="spacingAndGlyphs">0.001</text>
<text x="45.6" y="1407.9" font-size="27" textLength="82" lengthAdjust="spacingAndGlyphs">0.0001</text>
<text x="121.7" y="1446.4" font-size="27" textLength="67.3" lengthAdjust="spacingAndGlyphs">0.001</text>
<text x="293.1" y="1446.4" font-size="27" textLength="52.5" lengthAdjust="spacingAndGlyphs">0.01</text>
<text x="464.5" y="1446.4" font-size="27" textLength="37.8" lengthAdjust="spacingAndGlyphs">0.1</text>
<text x="639.3" y="1446.4" font-size="27" textLength="15.8" lengthAdjust="spacingAndGlyphs">1</text>
<text x="795.1" y="1446.4" font-size="27" textLength="32.3" lengthAdjust="spacingAndGlyphs">10</text>
<text x="951.8" y="1446.4" font-size="27" textLength="46.9" lengthAdjust="spacingAndGlyphs">100</text>
<line x1="151" y1="800.6" x2="182" y2="800.6" stroke="#c00000" stroke-width="2"/>
<rect x="162" y="796.1" width="9" height="9" fill="#c00000"/>
<text x="184.5" y="812.7" font-size="36" textLength="138" lengthAdjust="spacingAndGlyphs">BUT - G&#39;</text>
<line x1="370" y1="800.6" x2="400" y2="800.6" stroke="#c00000" stroke-width="2"/>
<rect x="381.4" y="797" width="7.2" height="7.2" fill="none" stroke="#c00000" stroke-width="1.8"/>
<text x="403.6" y="812.7" font-size="36" textLength="148" lengthAdjust="spacingAndGlyphs">BUT - G&#39;&#39;</text>
<line x1="589" y1="800.6" x2="619" y2="800.6" stroke="#548235" stroke-width="2"/>
<path d="M604 795.1L609.5 800.6L604 806.1L598.5 800.6Z" fill="#548235"/>
<text x="622.5" y="812.7" font-size="36" textLength="114" lengthAdjust="spacingAndGlyphs">EG - G&#39;</text>
<line x1="808" y1="800.6" x2="838" y2="800.6" stroke="#548235" stroke-width="2"/>
<path d="M823 796.4L827.2 800.6L823 804.8L818.8 800.6Z" fill="none" stroke="#548235" stroke-width="1.8"/>
<text x="841.1" y="812.7" font-size="36" textLength="124" lengthAdjust="spacingAndGlyphs">EG - G&#39;&#39;</text>
<line x1="151" y1="855.4" x2="182" y2="855.4" stroke="#00b0f0" stroke-width="2"/>
<circle cx="166.5" cy="855.4" r="5" fill="#00b0f0"/>
<text x="184.4" y="867.3" font-size="36" textLength="125.2" lengthAdjust="spacingAndGlyphs">IPA - G&#39;</text>
<line x1="370" y1="855.4" x2="400" y2="855.4" stroke="#00b0f0" stroke-width="2"/>
<circle cx="385" cy="855.4" r="4.1" fill="none" stroke="#00b0f0" stroke-width="1.8"/>
<text x="403.6" y="867.3" font-size="36" textLength="135.6" lengthAdjust="spacingAndGlyphs">IPA - G&#39;&#39;</text>
<line x1="589" y1="855.4" x2="619" y2="855.4" stroke="#ed7d31" stroke-width="2"/>
<path d="M604 850.1L609.2 860.6L598.8 860.6Z" fill="#ed7d31"/>
<text x="622.4" y="867.3" font-size="36" textLength="141.2" lengthAdjust="spacingAndGlyphs">NPA - G&#39;</text>
<line x1="808" y1="855.4" x2="838" y2="855.4" stroke="#ed7d31" stroke-width="2"/>
<path d="M823 851.4L827 859.4L819 859.4Z" fill="none" stroke="#ed7d31" stroke-width="1.8"/>
<text x="841" y="867.3" font-size="36" textLength="151.2" lengthAdjust="spacingAndGlyphs">NPA - G&#39;&#39;</text>
<text x="378" y="1498.5" font-size="36" textLength="373.1" lengthAdjust="spacingAndGlyphs">Oscillation Stress (Pa)</text>
<text transform="translate(31,1274) rotate(-90)" x="0" y="0" font-size="36" textLength="209.2" lengthAdjust="spacingAndGlyphs">G&#39; &amp; G&#39;&#39; (Pa)</text>
</g>
</svg></div>
</body></html>
